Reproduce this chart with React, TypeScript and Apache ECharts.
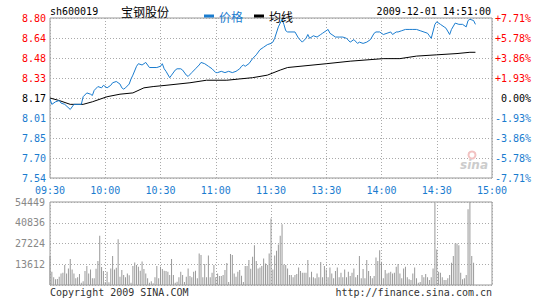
import React, { useEffect, useRef } from "react";
import * as echarts from "echarts";

// ---- data ----
const BASE = 8.17; // previous close
const STEP = 0.1575; // price per grid step (7.71%)
const timeLabels = ["09:30", "10:00", "10:30", "11:00", "11:30", "13:30", "14:00", "14:30", "15:00"];
const priceTicks = ["7.54", "7.70", "7.85", "8.01", "8.17", "8.33", "8.48", "8.64", "8.80"];
const pctTicks = ["-7.71%", "-5.78%", "-3.86%", "-1.93%", "0.00%", "+1.93%", "+3.86%", "+5.78%", "+7.71%"];
const volTicks = ["", "13612", "27224", "40836", "54449"];

const priceMinutes = [
  0, 1, 3, 5, 6, 8, 11, 13, 17, 18, 20, 22, 23, 24, 26, 28, 29, 31, 33, 34, 36, 38, 39, 40, 41, 43, 44, 45, 47, 48,
  50, 52, 53, 54, 58, 60, 61, 62, 63, 65, 66, 68, 69, 71, 72, 74, 75, 77, 79, 81, 82, 84, 86, 88, 90, 91, 93, 95, 97, 99,
  101, 102, 103, 104, 105, 106, 108, 110, 112, 114, 116, 118, 120, 121, 122, 124, 126, 127, 128, 129, 133, 135, 137, 139, 140, 141, 143, 145, 147, 148,
  151, 152, 155, 157, 159, 161, 163, 165, 167, 168, 170, 172, 174, 176, 177, 179, 181, 183, 185, 186, 188, 189, 191, 193, 195, 197, 199, 201, 205, 206,
  207, 209, 210, 212, 214, 215, 217, 218, 220, 222, 224, 226, 227, 228, 230, 231,
];
const prices = [
  8.16, 8.12, 8.14, 8.15, 8.13, 8.12, 8.08, 8.12, 8.12, 8.18, 8.21, 8.2, 8.19, 8.23, 8.26, 8.25, 8.27, 8.25, 8.27, 8.29, 8.3, 8.28, 8.25, 8.24, 8.25, 8.28, 8.32, 8.35, 8.42, 8.44,
  8.43, 8.45, 8.43, 8.41, 8.41, 8.42, 8.44, 8.4, 8.38, 8.33, 8.35, 8.39, 8.4, 8.4, 8.39, 8.35, 8.34, 8.37, 8.4, 8.43, 8.45, 8.44, 8.42, 8.4, 8.37, 8.37, 8.38, 8.37, 8.38, 8.37,
  8.38, 8.39, 8.4, 8.42, 8.43, 8.42, 8.44, 8.48, 8.51, 8.55, 8.57, 8.59, 8.6, 8.61, 8.64, 8.73, 8.79, 8.75, 8.7, 8.69, 8.69, 8.64, 8.61, 8.64, 8.67, 8.64, 8.66, 8.65, 8.67, 8.68,
  8.71, 8.68, 8.65, 8.65, 8.65, 8.64, 8.61, 8.63, 8.6, 8.61, 8.6, 8.61, 8.63, 8.68, 8.69, 8.69, 8.67, 8.68, 8.69, 8.67, 8.69, 8.69, 8.7, 8.71, 8.71, 8.71, 8.71, 8.7, 8.68, 8.66,
  8.64, 8.75, 8.77, 8.75, 8.73, 8.72, 8.67, 8.71, 8.76, 8.75, 8.75, 8.73, 8.78, 8.79, 8.78, 8.75,
];

const avgMinutes = [0, 5, 11, 18, 23, 31, 38, 45, 51, 56, 63, 76, 85, 96, 103, 110, 118, 125, 129, 150, 163, 181, 190, 199, 210, 221, 228, 231];
const avgPrices = [8.17, 8.15, 8.12, 8.12, 8.14, 8.18, 8.2, 8.21, 8.25, 8.26, 8.27, 8.29, 8.31, 8.31, 8.32, 8.33, 8.35, 8.39, 8.41, 8.44, 8.46, 8.48, 8.48, 8.5, 8.51, 8.52, 8.53, 8.53];

// per-minute volume, minute 0 .. 230
const volumes = [
  18950, 8710, 5010, 3700, 3920, 5450, 7620, 8060, 13070, 7620, 10890, 16990, 10240, 7620, 4360, 5010, 7190, 1500, 2500, 9150,
  12410, 7620, 10240, 4360, 4360, 10670, 15680, 32230, 11760, 9150, 2000, 8710, 1800, 10890, 18950, 10240, 11330, 30060, 5450, 9800,
  6530, 5010, 7620, 6320, 1500, 12410, 14810, 13070, 11980, 9370, 15460, 10450, 7620, 4360, 1500, 2500, 1200, 5010, 12410, 4360,
  11980, 10450, 9370, 9150, 8710, 6530, 16990, 6530, 1500, 2200, 5010, 8710, 6530, 2000, 5450, 10890, 5880, 5010, 8710, 9370,
  4360, 20690, 19600, 5010, 13720, 5010, 19380, 5010, 8060, 13070, 5010, 7620, 5880, 5880, 6530, 9800, 14370, 2000, 20260, 19600,
  7620, 5450, 8710, 9800, 6100, 2000, 12410, 12410, 16340, 10670, 18510, 26140, 15680, 10890, 11540, 12410, 17420, 14160, 13070, 20690,
  43560, 10240, 19380, 22430, 26570, 32230, 39860, 13500, 13070, 10890, 6530, 6530, 5010, 6530, 7190, 11540, 9150, 8060, 8060, 8060,
  16340, 5010, 8710, 5010, 4360, 7620, 5010, 15030, 5010, 12410, 10240, 5010, 11540, 7620, 4360, 9150, 11540, 5010, 8060, 5010,
  10240, 5010, 8710, 5880, 8060, 10890, 5010, 6530, 18950, 4360, 10450, 4360, 16340, 9150, 5880, 4360, 5880, 18080, 15680, 22870,
  15250, 4360, 9800, 7620, 8060, 8710, 7620, 8060, 11980, 13720, 7620, 4360, 10890, 11980, 5010, 3700, 3270, 7620, 11540, 4360,
  1500, 2000, 6530, 5010, 7190, 5010, 3270, 5010, 10890, 54000, 23300, 8710, 8060, 5010, 3270, 3270, 4360, 6530, 14590, 18950,
  27230, 27230, 26140, 8060, 3700, 4360, 6530, 49660, 54449, 18950, 14590,
];

// ---- styles ----
const MONO = "'DejaVu Sans Mono', 'Liberation Mono', monospace";
const CJK = "'Noto Sans CJK SC', sans-serif";
const BLUE = "#1a7ccf";
const RED = "#ff0000";
const GRID_LINE = { show: true, lineStyle: { color: "#aaaaaa", type: [1, 2] as any, width: 1 } };

function tickColor(idx: number) {
  if (idx > 4) return RED;
  if (idx === 4) return "#000000";
  return BLUE;
}

export default function App() {
  const ref = useRef<HTMLDivElement>(null);
  useEffect(() => {
    if (!ref.current) return;
    const chart = echarts.init(ref.current, null, { renderer: "svg" });
    const idxOf = (v: number) => Math.round(v) + 4;
    chart.setOption({
      animation: false,
      backgroundColor: "#ffffff",
      legend: {
        left: 199,
        top: 5,
        itemWidth: 10,
        itemHeight: 3,
        itemGap: 11,
        icon: "rect",
        textStyle: { fontFamily: CJK, fontSize: 12 },
        data: [
          { name: "价格", textStyle: { color: BLUE } },
          { name: "均线", textStyle: { color: "#000" } },
        ],
      },
      grid: [
        { left: 50, top: 18, width: 442, height: 160, show: true, borderColor: "#999", borderWidth: 1, backgroundColor: "transparent" },
        { left: 50, top: 202, width: 442, height: 83, show: true, borderColor: "#999", borderWidth: 1, backgroundColor: "transparent" },
      ],
      xAxis: [
        {
          gridIndex: 0, type: "value", min: 0, max: 240, interval: 30,
          axisLine: { show: false }, axisTick: { show: false }, splitLine: GRID_LINE,
          axisLabel: {
            show: true, margin: 7, color: BLUE, fontFamily: MONO, fontSize: 10,
            showMinLabel: true, showMaxLabel: true,
            formatter: (v: number) => timeLabels[Math.round(v / 30)] ?? "",
          },
        },
        {
          gridIndex: 1, type: "value", min: 0, max: 240, interval: 30,
          axisLine: { show: false }, axisTick: { show: false }, splitLine: GRID_LINE,
          axisLabel: { show: false },
        },
      ],
      yAxis: [
        {
          gridIndex: 0, type: "value", min: -4, max: 4, interval: 1,
          axisLine: { show: false }, axisTick: { show: false }, splitLine: GRID_LINE,
          axisLabel: {
            margin: 4, fontFamily: MONO, fontSize: 10,
            formatter: (v: number) => priceTicks[idxOf(v)] ?? "",
            color: (v: any) => tickColor(idxOf(Number(v))),
          },
        },
        {
          gridIndex: 0, type: "value", position: "right", min: -4, max: 4, interval: 1,
          axisLine: { show: false }, axisTick: { show: false }, splitLine: { show: false },
          axisLabel: {
            margin: 39, align: "right", fontFamily: MONO, fontSize: 10,
            formatter: (v: number) => pctTicks[idxOf(v)] ?? "",
            color: (v: any) => tickColor(idxOf(Number(v))),
          },
        },
        {
          gridIndex: 1, type: "value", min: 0, max: 54449, interval: 54449 / 4,
          axisLine: { show: false }, axisTick: { show: false }, splitLine: GRID_LINE,
          axisLabel: {
            margin: 5, color: "#888888", fontFamily: MONO, fontSize: 10,
            formatter: (v: number) => volTicks[Math.round(v / (54449 / 4))] ?? "",
          },
        },
      ],
      series: [
        {
          name: "价格", type: "line", xAxisIndex: 0, yAxisIndex: 0, showSymbol: false, symbol: "none",
          color: BLUE, lineStyle: { width: 1, color: BLUE },
          data: priceMinutes.map((m, i) => [m, (prices[i] - BASE) / STEP]),
          z: 3,
        },
        {
          name: "均线", type: "line", xAxisIndex: 0, yAxisIndex: 0, showSymbol: false, symbol: "none",
          color: "#000", lineStyle: { width: 1, color: "#000" },
          data: avgMinutes.map((m, i) => [m, (avgPrices[i] - BASE) / STEP]),
          z: 2,
        },
        {
          name: "成交量", type: "bar", xAxisIndex: 1, yAxisIndex: 2, barWidth: 1,
          itemStyle: { color: "#999999" },
          data: volumes.map((v, i) => [i, v]),
        },
      ],
      graphic: [
        { type: "text", left: 50, top: 6, style: { text: "sh600019", fill: "#000", font: `10px ${MONO}` } },
        { type: "text", left: 121, top: 5, style: { text: "宝钢股份", fill: "#000", font: `12px ${CJK}` } },
        { type: "text", right: 54, top: 6, style: { text: "2009-12-01 14:51:00", fill: "#000", font: `10px ${MONO}` } },
        { type: "text", left: 50, top: 287, style: { text: "Copyright 2009 SINA.COM", fill: "#333", font: `10px ${MONO}` } },
        { type: "text", right: 53, top: 287, style: { text: "http://finance.sina.com.cn", fill: "#333", font: `10px ${MONO}` } },
        { type: "circle", shape: { cx: 472, cy: 155, r: 3.5 }, style: { fill: "none", stroke: "#f2c2c2", lineWidth: 2 }, z: 1 },
        { type: "text", right: 57, top: 159, style: { text: "sina", fill: "#cccccc", font: `italic bold 12px 'DejaVu Sans', sans-serif` }, z: 1 },
      ],
    });
    return () => chart.dispose();
  }, []);
  return <div ref={ref} style={{ position: "absolute", left: 0, top: 0, width: 545, height: 300 }} />;
}
